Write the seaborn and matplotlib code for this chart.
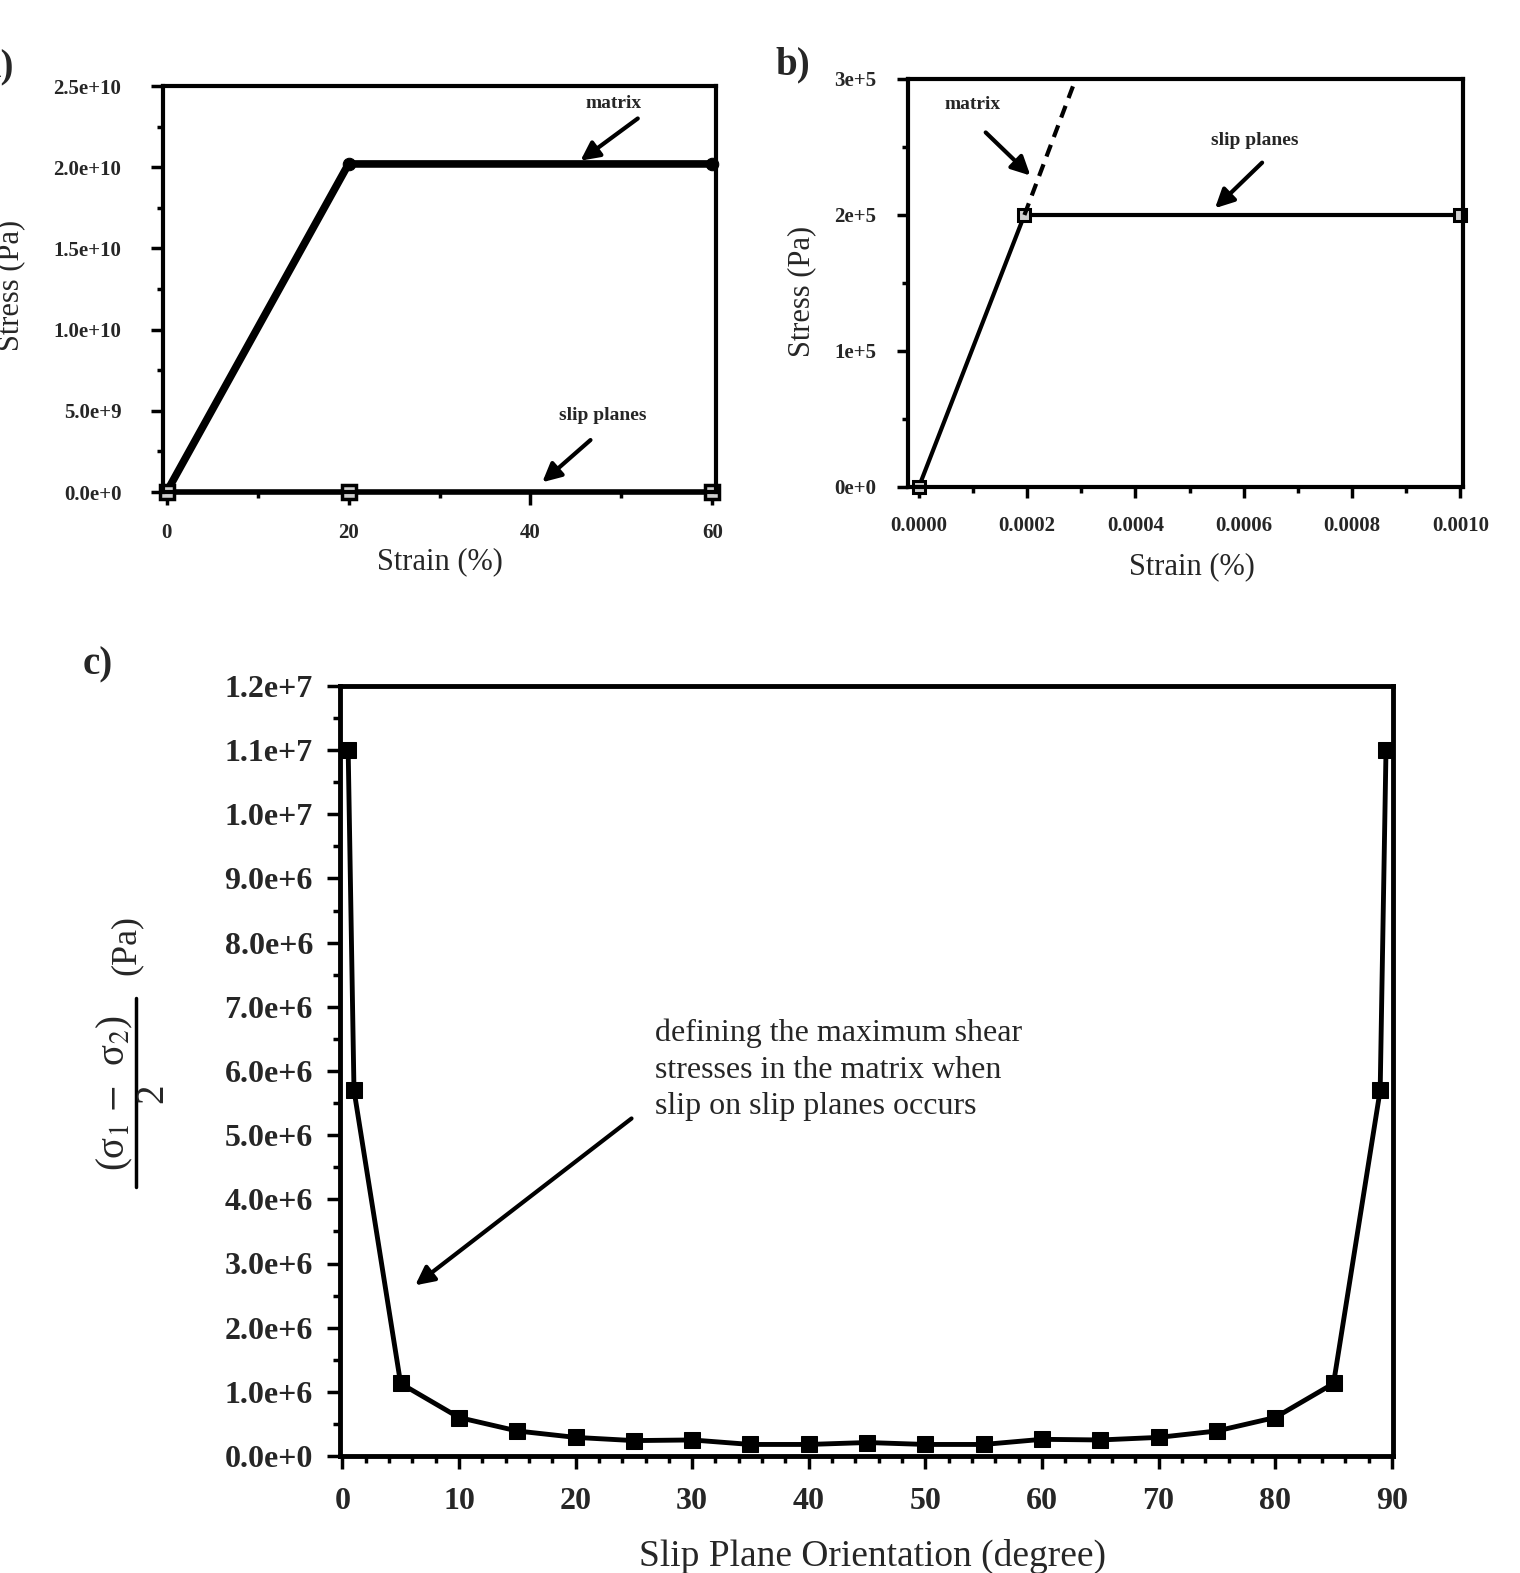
import matplotlib
matplotlib.use('Agg')
import matplotlib.pyplot as plt
import seaborn as sns
from matplotlib.lines import Line2D
from matplotlib.ticker import FixedLocator, FixedFormatter, MultipleLocator

# a) stress-strain, matrix vs slip planes
a_matrix_strain = [0, 20, 60]
a_matrix_stress = [0, 2.02e10, 2.02e10]
a_slip_strain = [0, 20, 60]
a_slip_stress = [0, 0, 0]
a_xticks = [0, 20, 40, 60]
a_xticklabels = ['0', '20', '40', '60']
a_yticks = [0, 5e9, 1e10, 1.5e10, 2e10, 2.5e10]
a_yticklabels = ['0.0e+0', '5.0e+9', '1.0e+10', '1.5e+10', '2.0e+10', '2.5e+10']

# b) zoom on slip planes
b_slip_strain = [0, 0.000195, 0.001]
b_slip_stress = [0, 2.0e5, 2.0e5]
b_matrix_strain = [0.000195, 0.000285]
b_matrix_stress = [2.0e5, 2.95e5]
b_xticks = [0, 0.0002, 0.0004, 0.0006, 0.0008, 0.0010]
b_xticklabels = ['0.0000', '0.0002', '0.0004', '0.0006', '0.0008', '0.0010']
b_yticks = [0, 1e5, 2e5, 3e5]
b_yticklabels = ['0e+0', '1e+5', '2e+5', '3e+5']

# c) max shear stress vs slip plane orientation
c_angle = [0.5, 1, 5, 10, 15, 20, 25, 30, 35, 40, 45, 50, 55, 60, 65, 70, 75, 80, 85, 89, 89.5]
c_shear = [1.1e7, 5.7e6, 1.13e6, 6.0e5, 3.9e5, 2.9e5, 2.4e5, 2.5e5, 1.8e5, 1.8e5, 2.1e5,
           1.8e5, 1.8e5, 2.6e5, 2.5e5, 2.9e5, 3.9e5, 6.0e5, 1.13e6, 5.7e6, 1.1e7]
c_xticks = [0, 10, 20, 30, 40, 50, 60, 70, 80, 90]
c_xticklabels = [str(v) for v in c_xticks]
c_yticks = [i * 1e6 for i in range(13)]
c_yticklabels = ['0.0e+0', '1.0e+6', '2.0e+6', '3.0e+6', '4.0e+6', '5.0e+6', '6.0e+6',
                 '7.0e+6', '8.0e+6', '9.0e+6', '1.0e+7', '1.1e+7', '1.2e+7']

sns.set_style('ticks')
plt.rcParams['font.family'] = ['Liberation Serif', 'DejaVu Serif']
plt.rcParams['mathtext.fontset'] = 'stix'

W, H = 1520, 1573
fig = plt.figure(figsize=(W / 100, H / 100), dpi=100)


def px_axes(left, top, right, bottom):
    return fig.add_axes([left / W, 1 - bottom / H, (right - left) / W, (bottom - top) / H])


def style_axes(ax, spine_lw, tick_fs, xticks, xlabels, yticks, ylabels, xpad, ypad,
               major_len, minor_len, tick_w, weight='bold'):
    for s in ax.spines.values():
        s.set_linewidth(spine_lw)
        s.set_color('k')
    ax.xaxis.set_major_locator(FixedLocator(xticks))
    ax.xaxis.set_major_formatter(FixedFormatter(xlabels))
    ax.yaxis.set_major_locator(FixedLocator(yticks))
    ax.yaxis.set_major_formatter(FixedFormatter(ylabels))
    ax.tick_params(which='major', direction='out', length=major_len, width=tick_w, color='k')
    ax.tick_params(which='minor', direction='out', length=minor_len, width=tick_w, color='k')
    ax.tick_params(axis='x', which='major', pad=xpad, labelsize=tick_fs)
    ax.tick_params(axis='y', which='major', pad=ypad, labelsize=tick_fs)
    for lab in ax.get_xticklabels() + ax.get_yticklabels():
        lab.set_fontweight(weight)
    ax.grid(False)


arrow = dict(arrowstyle='-|>', color='k', lw=3, mutation_scale=28, shrinkA=0, shrinkB=0)

# ---------- panel a ----------
ax_a = px_axes(163, 86, 716, 492)
sns.lineplot(x=a_matrix_strain, y=a_matrix_stress, ax=ax_a, color='k', lw=5.5, marker='o',
             markersize=9, markeredgecolor='k', markerfacecolor='k', estimator=None,
             sort=False, clip_on=False)
sns.lineplot(x=a_slip_strain, y=a_slip_stress, ax=ax_a, color='k', lw=4, marker='s',
             markersize=10, markeredgecolor='k', markerfacecolor='#d0d0d0',
             markeredgewidth=2.5, estimator=None, sort=False, clip_on=False)
ax_a.set_xlim(-0.4, 60.4)
ax_a.set_ylim(0, 2.5e10)
ax_a.xaxis.set_minor_locator(MultipleLocator(10))
ax_a.yaxis.set_minor_locator(MultipleLocator(2.5e9))
style_axes(ax_a, 3, 15, a_xticks, a_xticklabels, a_yticks, a_yticklabels, 13, 21, 9, 4, 2.5)
ax_a.set_xlabel('Strain (%)', fontsize=22)
ax_a.xaxis.set_label_coords(0.5, -0.135)
ax_a.set_ylabel('Stress (Pa)', fontsize=22)
ax_a.yaxis.set_label_coords(-0.25, 0.51)
ax_a.text(49.1, 2.395e10, 'matrix', fontsize=14, fontweight='bold', ha='center', va='center')
ax_a.annotate('', xy=(45.5, 2.04e10), xytext=(51.8, 2.30e10), arrowprops=arrow)
ax_a.text(48.0, 0.474e10, 'slip planes', fontsize=14, fontweight='bold', ha='center', va='center')
ax_a.annotate('', xy=(41.3, 0.06e10), xytext=(46.6, 0.32e10), arrowprops=arrow)
fig.text(14 / W, 1 - 68 / H, 'a)', fontsize=28, fontweight='bold', ha='right', va='center')

# ---------- panel b ----------
ax_b = px_axes(908, 79, 1463, 487)
sns.lineplot(x=b_slip_strain, y=b_slip_stress, ax=ax_b, color='k', lw=3, marker='s',
             markersize=9, markeredgecolor='k', markerfacecolor='#d0d0d0',
             markeredgewidth=2.2, estimator=None, sort=False, clip_on=False)
sns.lineplot(x=b_matrix_strain, y=b_matrix_stress, ax=ax_b, color='k', lw=3,
             linestyle=(0, (3, 2)), estimator=None, sort=False)
ax_b.set_xlim(-0.00002, 0.001005)
ax_b.set_ylim(0, 3e5)
ax_b.xaxis.set_minor_locator(MultipleLocator(0.0001))
ax_b.yaxis.set_minor_locator(MultipleLocator(0.5e5))
style_axes(ax_b, 3, 15, b_xticks, b_xticklabels, b_yticks, b_yticklabels, 13, 15, 8, 4, 2.5)
ax_b.set_xlabel('Strain (%)', fontsize=22)
ax_b.xaxis.set_label_coords(0.512, -0.16)
ax_b.set_ylabel('Stress (Pa)', fontsize=22)
ax_b.yaxis.set_label_coords(-0.165, 0.48)
ax_b.text(0.0000995, 2.815e5, 'matrix', fontsize=14, fontweight='bold', ha='center', va='center')
ax_b.annotate('', xy=(0.000206, 2.29e5), xytext=(0.0001235, 2.607e5), arrowprops=arrow)
ax_b.text(0.000621, 2.548e5, 'slip planes', fontsize=14, fontweight='bold', ha='center',
          va='center')
ax_b.annotate('', xy=(0.000547, 2.05e5), xytext=(0.000634, 2.385e5), arrowprops=arrow)
fig.text(810 / W, 1 - 65 / H, 'b)', fontsize=28, fontweight='bold', ha='right', va='center')

# ---------- panel c ----------
ax_c = px_axes(340, 686, 1393, 1456)
sns.lineplot(x=c_angle, y=c_shear, ax=ax_c, color='k', lw=3.5, marker='s', markersize=11,
             markeredgecolor='k', markerfacecolor='k', estimator=None, sort=False,
             clip_on=False)
ax_c.set_xlim(-0.2, 90.1)
ax_c.set_ylim(0, 1.2e7)
ax_c.xaxis.set_minor_locator(MultipleLocator(2))
ax_c.yaxis.set_minor_locator(MultipleLocator(0.5e6))
style_axes(ax_c, 3.5, 23, c_xticks, c_xticklabels, c_yticks, c_yticklabels, 13, 10, 9.5, 5, 2.5)
ax_c.set_xlabel('Slip Plane Orientation (degree)', fontsize=27)
ax_c.xaxis.set_label_coords(0.506, -0.108)
ax_c.text(26.8, 6.82e6, 'defining the maximum shear\nstresses in the matrix when\nslip on slip planes occurs',
          fontsize=23, ha='left', va='top', linespacing=1.35)
ax_c.annotate('', xy=(6.25, 2.66e6), xytext=(24.8, 5.26e6), arrowprops=arrow)

# y label of panel c: stacked fraction drawn by hand, rotated
fig.text(115 / W, 1 - 1093 / H, r'(σ$_1$ $-$  σ$_2$)', fontsize=28, rotation=90,
         ha='center', va='center')
fig.add_artist(Line2D([136 / W, 136 / W], [1 - 1187 / H, 1 - 998 / H], color='k', lw=2.5))
fig.text(153 / W, 1 - 1093 / H, '2', fontsize=28, rotation=90, ha='center', va='center')
fig.text(126 / W, 1 - 945 / H, '(Pa)', fontsize=26, rotation=90, ha='center', va='center')
fig.text(113 / W, 1 - 665 / H, 'c)', fontsize=28, fontweight='bold', ha='right', va='center')

fig.savefig('out.png', dpi=100, facecolor='white')
